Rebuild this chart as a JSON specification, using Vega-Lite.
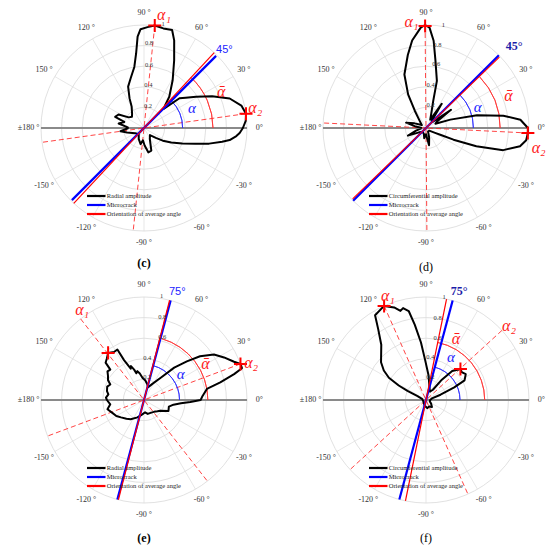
{
  "$schema": "https://vega.github.io/schema/vega-lite/v6.json",
  "background": "white",
  "padding": {"left": 17, "top": 6, "right": 0, "bottom": 0},
  "datasets": {
    "rings": [{"r": 0.2}, {"r": 0.4}, {"r": 0.6}, {"r": 0.8}, {"r": 1}],
    "spokes": [
      {"deg": 0, "label": "0°"}, {"deg": 30, "label": "30 °"}, {"deg": 60, "label": "60 °"},
      {"deg": 90, "label": "90 °"}, {"deg": 120, "label": "120 °"}, {"deg": 150, "label": "150 °"},
      {"deg": 180, "label": "±180 °"}, {"deg": -150, "label": "-150 °"}, {"deg": -120, "label": "-120 °"},
      {"deg": -90, "label": "-90 °"}, {"deg": -60, "label": "-60 °"}, {"deg": -30, "label": "-30 °"}
    ],
    "amp_c": [
      {"deg": -180, "r": 0.15}, {"deg": -172, "r": 0.23}, {"deg": -165, "r": 0.17}, {"deg": -150, "r": 0.1},
      {"deg": -130, "r": 0.08}, {"deg": -115, "r": 0.12}, {"deg": -102, "r": 0.16}, {"deg": -95, "r": 0.12},
      {"deg": -88, "r": 0.17}, {"deg": -80, "r": 0.24}, {"deg": -72, "r": 0.23}, {"deg": -62, "r": 0.12},
      {"deg": -50, "r": 0.09}, {"deg": -40, "r": 0.15}, {"deg": -34, "r": 0.22}, {"deg": -28, "r": 0.3},
      {"deg": -22, "r": 0.4}, {"deg": -17, "r": 0.52}, {"deg": -13.5, "r": 0.65}, {"deg": -10, "r": 0.77},
      {"deg": -8, "r": 0.84}, {"deg": -5, "r": 0.9}, {"deg": -3, "r": 0.93}, {"deg": 0, "r": 0.96},
      {"deg": 4, "r": 0.99}, {"deg": 8, "r": 1.0}, {"deg": 13, "r": 0.97}, {"deg": 19, "r": 0.88},
      {"deg": 25, "r": 0.73}, {"deg": 31, "r": 0.59}, {"deg": 36, "r": 0.5}, {"deg": 40, "r": 0.45},
      {"deg": 43, "r": 0.3}, {"deg": 44, "r": 0.27}, {"deg": 47, "r": 0.3}, {"deg": 51, "r": 0.39},
      {"deg": 59, "r": 0.54}, {"deg": 66, "r": 0.72}, {"deg": 71, "r": 0.9}, {"deg": 74, "r": 0.99},
      {"deg": 79, "r": 0.985}, {"deg": 84, "r": 1.0}, {"deg": 88, "r": 0.98}, {"deg": 92, "r": 0.96},
      {"deg": 94, "r": 0.89}, {"deg": 96, "r": 0.73}, {"deg": 99, "r": 0.6}, {"deg": 105, "r": 0.5},
      {"deg": 111, "r": 0.43}, {"deg": 116, "r": 0.32}, {"deg": 120, "r": 0.24}, {"deg": 130, "r": 0.18},
      {"deg": 137, "r": 0.16}, {"deg": 145, "r": 0.18}, {"deg": 152, "r": 0.28}, {"deg": 159, "r": 0.3},
      {"deg": 163, "r": 0.2}, {"deg": 170, "r": 0.25}, {"deg": 175, "r": 0.18}, {"deg": 180, "r": 0.15}
    ],
    "amp_d": [
      {"deg": -180, "r": 0.04}, {"deg": -165, "r": 0.1}, {"deg": -157, "r": 0.19}, {"deg": -148, "r": 0.08},
      {"deg": -130, "r": 0.05}, {"deg": -110, "r": 0.06}, {"deg": -100, "r": 0.1}, {"deg": -90, "r": 0.06},
      {"deg": -80, "r": 0.17}, {"deg": -72, "r": 0.1}, {"deg": -60, "r": 0.04}, {"deg": -40, "r": 0.04},
      {"deg": -28, "r": 0.1}, {"deg": -25, "r": 0.16}, {"deg": -23, "r": 0.29}, {"deg": -20, "r": 0.52},
      {"deg": -16, "r": 0.78}, {"deg": -11, "r": 0.93}, {"deg": -7, "r": 0.98}, {"deg": -3, "r": 0.99},
      {"deg": 0, "r": 0.99}, {"deg": 5, "r": 0.92}, {"deg": 9, "r": 0.76}, {"deg": 14, "r": 0.51},
      {"deg": 19, "r": 0.25}, {"deg": 24, "r": 0.1}, {"deg": 30, "r": 0.12}, {"deg": 36, "r": 0.3},
      {"deg": 41, "r": 0.1}, {"deg": 46, "r": 0.08}, {"deg": 52, "r": 0.1}, {"deg": 57, "r": 0.28},
      {"deg": 63, "r": 0.09}, {"deg": 70, "r": 0.15}, {"deg": 75, "r": 0.27}, {"deg": 77, "r": 0.47},
      {"deg": 82, "r": 0.66}, {"deg": 85, "r": 0.85}, {"deg": 88, "r": 0.975}, {"deg": 90.5, "r": 1.0},
      {"deg": 93, "r": 0.976}, {"deg": 99, "r": 0.86}, {"deg": 104, "r": 0.73}, {"deg": 112, "r": 0.56},
      {"deg": 118, "r": 0.37}, {"deg": 123, "r": 0.2}, {"deg": 132, "r": 0.09}, {"deg": 145, "r": 0.05},
      {"deg": 158, "r": 0.12}, {"deg": 165, "r": 0.2}, {"deg": 172, "r": 0.1}, {"deg": 180, "r": 0.04}
    ],
    "amp_e": [
      {"deg": -180, "r": 0.36}, {"deg": -172.7, "r": 0.33}, {"deg": -165.7, "r": 0.366}, {"deg": -157.2, "r": 0.33},
      {"deg": -150, "r": 0.31}, {"deg": -142.9, "r": 0.28}, {"deg": -133, "r": 0.25}, {"deg": -124.6, "r": 0.227},
      {"deg": -110.7, "r": 0.18}, {"deg": -96.6, "r": 0.14}, {"deg": -85, "r": 0.12}, {"deg": -75, "r": 0.14},
      {"deg": -63, "r": 0.14}, {"deg": -50, "r": 0.15}, {"deg": -40, "r": 0.17}, {"deg": -33, "r": 0.19},
      {"deg": -24, "r": 0.26}, {"deg": -15, "r": 0.25}, {"deg": -9, "r": 0.29}, {"deg": -5, "r": 0.36},
      {"deg": -2.5, "r": 0.45}, {"deg": 0, "r": 0.55}, {"deg": 4, "r": 0.57}, {"deg": 10, "r": 0.62},
      {"deg": 13, "r": 0.76}, {"deg": 16, "r": 0.91}, {"deg": 18, "r": 1.0}, {"deg": 20.5, "r": 1.0},
      {"deg": 23, "r": 0.95}, {"deg": 28, "r": 0.88}, {"deg": 33, "r": 0.81}, {"deg": 38, "r": 0.69},
      {"deg": 42, "r": 0.56}, {"deg": 47, "r": 0.43}, {"deg": 53, "r": 0.27}, {"deg": 62, "r": 0.18},
      {"deg": 72, "r": 0.13}, {"deg": 78, "r": 0.155}, {"deg": 86, "r": 0.19}, {"deg": 94, "r": 0.217},
      {"deg": 99, "r": 0.26}, {"deg": 103, "r": 0.288}, {"deg": 106, "r": 0.27}, {"deg": 108, "r": 0.31},
      {"deg": 111, "r": 0.353}, {"deg": 113, "r": 0.33}, {"deg": 116.6, "r": 0.433}, {"deg": 117.8, "r": 0.554},
      {"deg": 122, "r": 0.55}, {"deg": 127.3, "r": 0.575}, {"deg": 132, "r": 0.54}, {"deg": 135.8, "r": 0.52},
      {"deg": 138, "r": 0.44}, {"deg": 142, "r": 0.45}, {"deg": 146.3, "r": 0.42}, {"deg": 151, "r": 0.4},
      {"deg": 155.3, "r": 0.36}, {"deg": 160, "r": 0.38}, {"deg": 166.4, "r": 0.37}, {"deg": 171, "r": 0.35},
      {"deg": 176.5, "r": 0.37}, {"deg": 180, "r": 0.36}
    ],
    "amp_f": [
      {"deg": -180, "r": 0.03}, {"deg": -150, "r": 0.03}, {"deg": -120, "r": 0.04}, {"deg": -100, "r": 0.06},
      {"deg": -80, "r": 0.08}, {"deg": -65, "r": 0.07}, {"deg": -50, "r": 0.09}, {"deg": -35, "r": 0.06},
      {"deg": -20, "r": 0.04}, {"deg": 0, "r": 0.04}, {"deg": 10, "r": 0.05}, {"deg": 15, "r": 0.06},
      {"deg": 20, "r": 0.15}, {"deg": 24, "r": 0.3}, {"deg": 27, "r": 0.42}, {"deg": 33, "r": 0.46},
      {"deg": 38, "r": 0.44}, {"deg": 42, "r": 0.45}, {"deg": 48, "r": 0.38}, {"deg": 52, "r": 0.25},
      {"deg": 56, "r": 0.12}, {"deg": 65, "r": 0.09}, {"deg": 75, "r": 0.13}, {"deg": 84, "r": 0.24},
      {"deg": 91, "r": 0.38}, {"deg": 95, "r": 0.56}, {"deg": 98.5, "r": 0.74}, {"deg": 101, "r": 0.88},
      {"deg": 104, "r": 0.92}, {"deg": 106, "r": 0.9}, {"deg": 109, "r": 0.95}, {"deg": 114, "r": 1.0},
      {"deg": 121, "r": 0.96}, {"deg": 124, "r": 0.83}, {"deg": 129, "r": 0.69}, {"deg": 140, "r": 0.57},
      {"deg": 145, "r": 0.5}, {"deg": 149, "r": 0.42}, {"deg": 152, "r": 0.3}, {"deg": 154, "r": 0.2},
      {"deg": 156, "r": 0.09}, {"deg": 165, "r": 0.04}, {"deg": 180, "r": 0.03}
    ]
  },
  "concat": [
    {
      "width": 206, "height": 206,
      "layer": [
        {"data": {"name": "rings"}, "mark": {"type": "arc", "theta": 0, "theta2": 6.2832, "filled": false, "stroke": "#d4d4d4", "strokeWidth": 0.7},
         "encoding": {"radius": {"field": "r", "type": "quantitative", "stack": null, "scale": {"type": "linear", "domain": [0, 1], "range": [0, 103], "zero": true, "nice": false}}}},
        {"data": {"name": "spokes"}, "transform": [{"calculate": "cos(datum.deg*PI/180)", "as": "x"}, {"calculate": "sin(datum.deg*PI/180)", "as": "y"}],
         "mark": {"type": "rule", "stroke": "#dcdcdc", "strokeWidth": 0.7},
         "encoding": {"x": {"field": "x", "type": "quantitative", "scale": {"domain": [-1, 1], "nice": false, "zero": false}}, "y": {"field": "y", "type": "quantitative", "scale": {"domain": [-1, 1], "nice": false, "zero": false}}, "x2": {"datum": 0}, "y2": {"datum": 0}}},
        {"data": {"name": "spokes"}, "transform": [{"filter": "datum.deg == 0"}],
         "mark": {"type": "rule", "stroke": "#8a8a8a", "strokeWidth": 2},
         "encoding": {"x": {"datum": -1, "type": "quantitative"}, "x2": {"datum": 1}, "y": {"datum": 0, "type": "quantitative"}}},
        {"data": {"values": [{"deg": 84, "r": 1}, {"deg": 8, "r": 1}]},
         "transform": [{"calculate": "datum.r*cos(datum.deg*PI/180)", "as": "x"}, {"calculate": "datum.r*sin(datum.deg*PI/180)", "as": "y"}, {"calculate": "-datum.x", "as": "nx"}, {"calculate": "-datum.y", "as": "ny"}],
         "mark": {"type": "rule", "stroke": "#ff3030", "strokeWidth": 0.9, "strokeDash": [5, 3]},
         "encoding": {"x": {"field": "x", "type": "quantitative"}, "y": {"field": "y", "type": "quantitative"}, "x2": {"field": "nx"}, "y2": {"field": "ny"}}},
        {"data": {"values": [{"from": 0, "to": 45, "r": 0.375}]},
         "transform": [{"calculate": "(90-datum.to)*PI/180", "as": "t1"}, {"calculate": "(90-datum.from)*PI/180", "as": "t2"}],
         "mark": {"type": "arc", "filled": false, "stroke": "#2a2aff", "strokeWidth": 0.8},
         "encoding": {"theta": {"field": "t1", "type": "quantitative", "scale": null, "stack": null}, "theta2": {"field": "t2"}, "radius": {"field": "r", "type": "quantitative", "stack": null}, "radius2": {"field": "r"}}},
        {"data": {"values": [{"from": 0, "to": 47, "r": 0.67}]},
         "transform": [{"calculate": "(90-datum.to)*PI/180", "as": "t1"}, {"calculate": "(90-datum.from)*PI/180", "as": "t2"}],
         "mark": {"type": "arc", "filled": false, "stroke": "#ff3030", "strokeWidth": 0.8},
         "encoding": {"theta": {"field": "t1", "type": "quantitative", "scale": null, "stack": null}, "theta2": {"field": "t2"}, "radius": {"field": "r", "type": "quantitative", "stack": null}, "radius2": {"field": "r"}}},
        {"data": {"name": "amp_c"}, "transform": [{"calculate": "datum.r*cos(datum.deg*PI/180)", "as": "x"}, {"calculate": "datum.r*sin(datum.deg*PI/180)", "as": "y"}],
         "mark": {"type": "line", "strokeWidth": 2, "strokeJoin": "round"},
         "encoding": {"x": {"field": "x", "type": "quantitative"}, "y": {"field": "y", "type": "quantitative"}, "order": {"field": "deg", "type": "quantitative"},
           "color": {"datum": "Radial amplitude", "type": "nominal",
             "scale": {"domain": ["Radial amplitude", "Microcrack", "Orientation of average angle"], "range": ["#000000", "#0000ff", "#ff0000"]},
             "legend": {"orient": "none", "legendX": 46, "legendY": 166.5, "title": null, "padding": 0, "rowPadding": 0, "symbolType": "M-3,0H3", "symbolSize": 38, "symbolStrokeWidth": 2.2, "symbolOffset": 4.75, "labelOffset": 6, "labelFont": "Liberation Serif", "labelFontSize": 6.5, "labelColor": "#222", "labelLimit": 0}}}},
        {"data": {"values": [{"deg": 45, "r": 0.99}]},
         "transform": [{"calculate": "datum.r*cos(datum.deg*PI/180)", "as": "x"}, {"calculate": "datum.r*sin(datum.deg*PI/180)", "as": "y"}, {"calculate": "-datum.x", "as": "nx"}, {"calculate": "-datum.y", "as": "ny"}],
         "mark": {"type": "rule", "strokeWidth": 2.2},
         "encoding": {"x": {"field": "x", "type": "quantitative"}, "y": {"field": "y", "type": "quantitative"}, "x2": {"field": "nx"}, "y2": {"field": "ny"}, "color": {"datum": "Microcrack", "type": "nominal"}}},
        {"data": {"values": [{"deg": 47, "r": 1.0}]},
         "transform": [{"calculate": "datum.r*cos(datum.deg*PI/180)", "as": "x"}, {"calculate": "datum.r*sin(datum.deg*PI/180)", "as": "y"}, {"calculate": "-datum.x", "as": "nx"}, {"calculate": "-datum.y", "as": "ny"}],
         "mark": {"type": "rule", "strokeWidth": 1.2},
         "encoding": {"x": {"field": "x", "type": "quantitative"}, "y": {"field": "y", "type": "quantitative"}, "x2": {"field": "nx"}, "y2": {"field": "ny"}, "color": {"datum": "Orientation of average angle", "type": "nominal"}}},
        {"data": {"values": [{"deg": 84, "r": 1.0}, {"deg": 8, "r": 1.0}]},
         "transform": [{"calculate": "datum.r*cos(datum.deg*PI/180)", "as": "x"}, {"calculate": "datum.r*sin(datum.deg*PI/180)", "as": "y"}],
         "mark": {"type": "point", "shape": "M-1,0H1M0,-1V1", "filled": false, "stroke": "#ff0000", "strokeWidth": 2, "size": 170, "opacity": 1},
         "encoding": {"x": {"field": "x", "type": "quantitative"}, "y": {"field": "y", "type": "quantitative"}}},
        {"data": {"name": "spokes"}, "transform": [{"calculate": "1.12*cos(datum.deg*PI/180)", "as": "x"}, {"calculate": "1.12*sin(datum.deg*PI/180)", "as": "y"}],
         "mark": {"type": "text", "font": "Liberation Serif", "fontSize": 8, "color": "#333"},
         "encoding": {"x": {"field": "x", "type": "quantitative"}, "y": {"field": "y", "type": "quantitative"}, "text": {"field": "label"}}},
        {"data": {"values": [{"x": 0.186, "y": 1.013, "t": "1"}, {"x": 0.049, "y": 0.824, "t": "0.8"}, {"x": 0.049, "y": 0.612, "t": "0.6"}, {"x": 0.042, "y": 0.417, "t": "0.4"}, {"x": 0.039, "y": 0.212, "t": "0.2"}]},
         "mark": {"type": "text", "font": "Liberation Serif", "fontSize": 6.5, "color": "#333"},
         "encoding": {"x": {"field": "x", "type": "quantitative"}, "y": {"field": "y", "type": "quantitative"}, "text": {"field": "t"}}},
        {"data": {"values": [{"x": 0.195, "y": 1.1, "t": "α₁"}, {"x": 1.08, "y": 0.19, "t": "α₂"}, {"x": 0.75, "y": 0.35, "t": "ᾱ"}]},
         "mark": {"type": "text", "font": "Liberation Serif", "fontSize": 16, "fontStyle": "italic", "color": "#ff1a1a"},
         "encoding": {"x": {"field": "x", "type": "quantitative"}, "y": {"field": "y", "type": "quantitative"}, "text": {"field": "t"}}},
        {"data": {"values": [{"x": 0.466, "y": 0.19, "t": "α"}]},
         "mark": {"type": "text", "font": "Liberation Serif", "fontSize": 15, "fontStyle": "italic", "color": "#2222ff"},
         "encoding": {"x": {"field": "x", "type": "quantitative"}, "y": {"field": "y", "type": "quantitative"}, "text": {"field": "t"}}},
        {"data": {"values": [{"x": 0.78, "y": 0.76, "t": "45°"}]},
         "mark": {"type": "text", "font": "Liberation Sans", "fontSize": 11, "color": "#2222ff"},
         "encoding": {"x": {"field": "x", "type": "quantitative"}, "y": {"field": "y", "type": "quantitative"}, "text": {"field": "t"}}},
        {"data": {"values": [{"x": 0, "y": -1.31, "t": "(c)"}]},
         "mark": {"type": "text", "font": "Liberation Serif", "fontSize": 12, "fontWeight": "bold", "color": "#000"},
         "encoding": {"x": {"field": "x", "type": "quantitative"}, "y": {"field": "y", "type": "quantitative"}, "text": {"field": "t"}}}
      ]
    },
    {
      "width": 206, "height": 206,
      "layer": [
        {"data": {"name": "rings"}, "mark": {"type": "arc", "theta": 0, "theta2": 6.2832, "filled": false, "stroke": "#d4d4d4", "strokeWidth": 0.7},
         "encoding": {"radius": {"field": "r", "type": "quantitative", "stack": null, "scale": {"type": "linear", "domain": [0, 1], "range": [0, 103], "zero": true, "nice": false}}}},
        {"data": {"name": "spokes"}, "transform": [{"calculate": "cos(datum.deg*PI/180)", "as": "x"}, {"calculate": "sin(datum.deg*PI/180)", "as": "y"}],
         "mark": {"type": "rule", "stroke": "#dcdcdc", "strokeWidth": 0.7},
         "encoding": {"x": {"field": "x", "type": "quantitative", "scale": {"domain": [-1, 1], "nice": false, "zero": false}}, "y": {"field": "y", "type": "quantitative", "scale": {"domain": [-1, 1], "nice": false, "zero": false}}, "x2": {"datum": 0}, "y2": {"datum": 0}}},
        {"data": {"name": "spokes"}, "transform": [{"filter": "datum.deg == 0"}],
         "mark": {"type": "rule", "stroke": "#8a8a8a", "strokeWidth": 2},
         "encoding": {"x": {"datum": -1, "type": "quantitative"}, "x2": {"datum": 1}, "y": {"datum": 0, "type": "quantitative"}}},
        {"data": {"values": [{"deg": 90.5, "r": 1}, {"deg": -2.8, "r": 1}]},
         "transform": [{"calculate": "datum.r*cos(datum.deg*PI/180)", "as": "x"}, {"calculate": "datum.r*sin(datum.deg*PI/180)", "as": "y"}, {"calculate": "-datum.x", "as": "nx"}, {"calculate": "-datum.y", "as": "ny"}],
         "mark": {"type": "rule", "stroke": "#ff3030", "strokeWidth": 0.9, "strokeDash": [5, 3]},
         "encoding": {"x": {"field": "x", "type": "quantitative"}, "y": {"field": "y", "type": "quantitative"}, "x2": {"field": "nx"}, "y2": {"field": "ny"}}},
        {"data": {"values": [{"from": 0, "to": 45, "r": 0.46}]},
         "transform": [{"calculate": "(90-datum.to)*PI/180", "as": "t1"}, {"calculate": "(90-datum.from)*PI/180", "as": "t2"}],
         "mark": {"type": "arc", "filled": false, "stroke": "#2a2aff", "strokeWidth": 0.8},
         "encoding": {"theta": {"field": "t1", "type": "quantitative", "scale": null, "stack": null}, "theta2": {"field": "t2"}, "radius": {"field": "r", "type": "quantitative", "stack": null}, "radius2": {"field": "r"}}},
        {"data": {"values": [{"from": 0, "to": 44, "r": 0.72}]},
         "transform": [{"calculate": "(90-datum.to)*PI/180", "as": "t1"}, {"calculate": "(90-datum.from)*PI/180", "as": "t2"}],
         "mark": {"type": "arc", "filled": false, "stroke": "#ff3030", "strokeWidth": 0.8},
         "encoding": {"theta": {"field": "t1", "type": "quantitative", "scale": null, "stack": null}, "theta2": {"field": "t2"}, "radius": {"field": "r", "type": "quantitative", "stack": null}, "radius2": {"field": "r"}}},
        {"data": {"name": "amp_d"}, "transform": [{"calculate": "datum.r*cos(datum.deg*PI/180)", "as": "x"}, {"calculate": "datum.r*sin(datum.deg*PI/180)", "as": "y"}],
         "mark": {"type": "line", "strokeWidth": 2, "strokeJoin": "round"},
         "encoding": {"x": {"field": "x", "type": "quantitative"}, "y": {"field": "y", "type": "quantitative"}, "order": {"field": "deg", "type": "quantitative"},
           "color": {"datum": "Circumferential amplitude", "type": "nominal",
             "scale": {"domain": ["Circumferential amplitude", "Microcrack", "Orientation of average angle"], "range": ["#000000", "#0000ff", "#ff0000"]},
             "legend": {"orient": "none", "legendX": 46, "legendY": 166.5, "title": null, "padding": 0, "rowPadding": 0, "symbolType": "M-3,0H3", "symbolSize": 38, "symbolStrokeWidth": 2.2, "symbolOffset": 4.75, "labelOffset": 6, "labelFont": "Liberation Serif", "labelFontSize": 6.5, "labelColor": "#222", "labelLimit": 0}}}},
        {"data": {"values": [{"deg": 45, "r": 1.0}]},
         "transform": [{"calculate": "datum.r*cos(datum.deg*PI/180)", "as": "x"}, {"calculate": "datum.r*sin(datum.deg*PI/180)", "as": "y"}, {"calculate": "-datum.x", "as": "nx"}, {"calculate": "-datum.y", "as": "ny"}],
         "mark": {"type": "rule", "strokeWidth": 2.2},
         "encoding": {"x": {"field": "x", "type": "quantitative"}, "y": {"field": "y", "type": "quantitative"}, "x2": {"field": "nx"}, "y2": {"field": "ny"}, "color": {"datum": "Microcrack", "type": "nominal"}}},
        {"data": {"values": [{"deg": 44, "r": 0.99}]},
         "transform": [{"calculate": "datum.r*cos(datum.deg*PI/180)", "as": "x"}, {"calculate": "datum.r*sin(datum.deg*PI/180)", "as": "y"}, {"calculate": "-datum.x", "as": "nx"}, {"calculate": "-datum.y", "as": "ny"}],
         "mark": {"type": "rule", "strokeWidth": 1.2},
         "encoding": {"x": {"field": "x", "type": "quantitative"}, "y": {"field": "y", "type": "quantitative"}, "x2": {"field": "nx"}, "y2": {"field": "ny"}, "color": {"datum": "Orientation of average angle", "type": "nominal"}}},
        {"data": {"values": [{"deg": 90.5, "r": 0.99}, {"deg": -2.8, "r": 0.99}]},
         "transform": [{"calculate": "datum.r*cos(datum.deg*PI/180)", "as": "x"}, {"calculate": "datum.r*sin(datum.deg*PI/180)", "as": "y"}],
         "mark": {"type": "point", "shape": "M-1,0H1M0,-1V1", "filled": false, "stroke": "#ff0000", "strokeWidth": 2, "size": 170, "opacity": 1},
         "encoding": {"x": {"field": "x", "type": "quantitative"}, "y": {"field": "y", "type": "quantitative"}}},
        {"data": {"name": "spokes"}, "transform": [{"calculate": "1.12*cos(datum.deg*PI/180)", "as": "x"}, {"calculate": "1.12*sin(datum.deg*PI/180)", "as": "y"}],
         "mark": {"type": "text", "font": "Liberation Serif", "fontSize": 8, "color": "#333"},
         "encoding": {"x": {"field": "x", "type": "quantitative"}, "y": {"field": "y", "type": "quantitative"}, "text": {"field": "label"}}},
        {"data": {"values": [{"x": 0.169, "y": 1.0, "t": "1"}, {"x": 0.11, "y": 0.81, "t": "0.8"}, {"x": 0.1, "y": 0.62, "t": "0.6"}, {"x": 0.045, "y": 0.416, "t": "0.4"}, {"x": 0.045, "y": 0.227, "t": "0.2"}]},
         "mark": {"type": "text", "font": "Liberation Serif", "fontSize": 6.5, "color": "#333"},
         "encoding": {"x": {"field": "x", "type": "quantitative"}, "y": {"field": "y", "type": "quantitative"}, "text": {"field": "t"}}},
        {"data": {"values": [{"x": -0.14, "y": 1.03, "t": "α₁"}, {"x": 1.094, "y": -0.195, "t": "α₂"}, {"x": 0.8, "y": 0.31, "t": "ᾱ"}]},
         "mark": {"type": "text", "font": "Liberation Serif", "fontSize": 16, "fontStyle": "italic", "color": "#ff1a1a"},
         "encoding": {"x": {"field": "x", "type": "quantitative"}, "y": {"field": "y", "type": "quantitative"}, "text": {"field": "t"}}},
        {"data": {"values": [{"x": 0.503, "y": 0.2, "t": "α"}]},
         "mark": {"type": "text", "font": "Liberation Serif", "fontSize": 15, "fontStyle": "italic", "color": "#2222ff"},
         "encoding": {"x": {"field": "x", "type": "quantitative"}, "y": {"field": "y", "type": "quantitative"}, "text": {"field": "t"}}},
        {"data": {"values": [{"x": 0.857, "y": 0.795, "t": "45°"}]},
         "mark": {"type": "text", "font": "Liberation Serif", "fontSize": 12, "fontWeight": "bold", "color": "#1c1ca8"},
         "encoding": {"x": {"field": "x", "type": "quantitative"}, "y": {"field": "y", "type": "quantitative"}, "text": {"field": "t"}}},
        {"data": {"values": [{"x": 0, "y": -1.35, "t": "(d)"}]},
         "mark": {"type": "text", "font": "Liberation Serif", "fontSize": 12, "color": "#000"},
         "encoding": {"x": {"field": "x", "type": "quantitative"}, "y": {"field": "y", "type": "quantitative"}, "text": {"field": "t"}}}
      ]
    },
    {
      "width": 206, "height": 206,
      "layer": [
        {"data": {"name": "rings"}, "mark": {"type": "arc", "theta": 0, "theta2": 6.2832, "filled": false, "stroke": "#d4d4d4", "strokeWidth": 0.7},
         "encoding": {"radius": {"field": "r", "type": "quantitative", "stack": null, "scale": {"type": "linear", "domain": [0, 1], "range": [0, 103], "zero": true, "nice": false}}}},
        {"data": {"name": "spokes"}, "transform": [{"calculate": "cos(datum.deg*PI/180)", "as": "x"}, {"calculate": "sin(datum.deg*PI/180)", "as": "y"}],
         "mark": {"type": "rule", "stroke": "#dcdcdc", "strokeWidth": 0.7},
         "encoding": {"x": {"field": "x", "type": "quantitative", "scale": {"domain": [-1, 1], "nice": false, "zero": false}}, "y": {"field": "y", "type": "quantitative", "scale": {"domain": [-1, 1], "nice": false, "zero": false}}, "x2": {"datum": 0}, "y2": {"datum": 0}}},
        {"data": {"name": "spokes"}, "transform": [{"filter": "datum.deg == 0"}],
         "mark": {"type": "rule", "stroke": "#8a8a8a", "strokeWidth": 2},
         "encoding": {"x": {"datum": -1, "type": "quantitative"}, "x2": {"datum": 1}, "y": {"datum": 0, "type": "quantitative"}}},
        {"data": {"values": [{"deg": 128, "r": 1}, {"deg": 20.5, "r": 1}]},
         "transform": [{"calculate": "datum.r*cos(datum.deg*PI/180)", "as": "x"}, {"calculate": "datum.r*sin(datum.deg*PI/180)", "as": "y"}, {"calculate": "-datum.x", "as": "nx"}, {"calculate": "-datum.y", "as": "ny"}],
         "mark": {"type": "rule", "stroke": "#ff3030", "strokeWidth": 0.9, "strokeDash": [5, 3]},
         "encoding": {"x": {"field": "x", "type": "quantitative"}, "y": {"field": "y", "type": "quantitative"}, "x2": {"field": "nx"}, "y2": {"field": "ny"}}},
        {"data": {"values": [{"from": 0, "to": 75, "r": 0.345}]},
         "transform": [{"calculate": "(90-datum.to)*PI/180", "as": "t1"}, {"calculate": "(90-datum.from)*PI/180", "as": "t2"}],
         "mark": {"type": "arc", "filled": false, "stroke": "#2a2aff", "strokeWidth": 0.8},
         "encoding": {"theta": {"field": "t1", "type": "quantitative", "scale": null, "stack": null}, "theta2": {"field": "t2"}, "radius": {"field": "r", "type": "quantitative", "stack": null}, "radius2": {"field": "r"}}},
        {"data": {"values": [{"from": 0, "to": 74, "r": 0.62}]},
         "transform": [{"calculate": "(90-datum.to)*PI/180", "as": "t1"}, {"calculate": "(90-datum.from)*PI/180", "as": "t2"}],
         "mark": {"type": "arc", "filled": false, "stroke": "#ff3030", "strokeWidth": 0.8},
         "encoding": {"theta": {"field": "t1", "type": "quantitative", "scale": null, "stack": null}, "theta2": {"field": "t2"}, "radius": {"field": "r", "type": "quantitative", "stack": null}, "radius2": {"field": "r"}}},
        {"data": {"name": "amp_e"}, "transform": [{"calculate": "datum.r*cos(datum.deg*PI/180)", "as": "x"}, {"calculate": "datum.r*sin(datum.deg*PI/180)", "as": "y"}],
         "mark": {"type": "line", "strokeWidth": 2, "strokeJoin": "round"},
         "encoding": {"x": {"field": "x", "type": "quantitative"}, "y": {"field": "y", "type": "quantitative"}, "order": {"field": "deg", "type": "quantitative"},
           "color": {"datum": "Radial amplitude", "type": "nominal",
             "scale": {"domain": ["Radial amplitude", "Microcrack", "Orientation of average angle"], "range": ["#000000", "#0000ff", "#ff0000"]},
             "legend": {"orient": "none", "legendX": 46, "legendY": 166.5, "title": null, "padding": 0, "rowPadding": 0, "symbolType": "M-3,0H3", "symbolSize": 38, "symbolStrokeWidth": 2.2, "symbolOffset": 4.75, "labelOffset": 6, "labelFont": "Liberation Serif", "labelFontSize": 6.5, "labelColor": "#222", "labelLimit": 0}}}},
        {"data": {"values": [{"deg": 75, "r": 1.0}]},
         "transform": [{"calculate": "datum.r*cos(datum.deg*PI/180)", "as": "x"}, {"calculate": "datum.r*sin(datum.deg*PI/180)", "as": "y"}, {"calculate": "-datum.x", "as": "nx"}, {"calculate": "-datum.y", "as": "ny"}],
         "mark": {"type": "rule", "strokeWidth": 2.2},
         "encoding": {"x": {"field": "x", "type": "quantitative"}, "y": {"field": "y", "type": "quantitative"}, "x2": {"field": "nx"}, "y2": {"field": "ny"}, "color": {"datum": "Microcrack", "type": "nominal"}}},
        {"data": {"values": [{"deg": 75.6, "r": 1.0}]},
         "transform": [{"calculate": "datum.r*cos(datum.deg*PI/180)", "as": "x"}, {"calculate": "datum.r*sin(datum.deg*PI/180)", "as": "y"}, {"calculate": "-datum.x", "as": "nx"}, {"calculate": "-datum.y", "as": "ny"}],
         "mark": {"type": "rule", "strokeWidth": 1.2},
         "encoding": {"x": {"field": "x", "type": "quantitative"}, "y": {"field": "y", "type": "quantitative"}, "x2": {"field": "nx"}, "y2": {"field": "ny"}, "color": {"datum": "Orientation of average angle", "type": "nominal"}}},
        {"data": {"values": [{"deg": 127.3, "r": 0.575}, {"deg": 20.5, "r": 1.0}]},
         "transform": [{"calculate": "datum.r*cos(datum.deg*PI/180)", "as": "x"}, {"calculate": "datum.r*sin(datum.deg*PI/180)", "as": "y"}],
         "mark": {"type": "point", "shape": "M-1,0H1M0,-1V1", "filled": false, "stroke": "#ff0000", "strokeWidth": 2, "size": 170, "opacity": 1},
         "encoding": {"x": {"field": "x", "type": "quantitative"}, "y": {"field": "y", "type": "quantitative"}}},
        {"data": {"name": "spokes"}, "transform": [{"calculate": "1.12*cos(datum.deg*PI/180)", "as": "x"}, {"calculate": "1.12*sin(datum.deg*PI/180)", "as": "y"}],
         "mark": {"type": "text", "font": "Liberation Serif", "fontSize": 8, "color": "#333"},
         "encoding": {"x": {"field": "x", "type": "quantitative"}, "y": {"field": "y", "type": "quantitative"}, "text": {"field": "label"}}},
        {"data": {"values": [{"x": 0.171, "y": 1.006, "t": "1"}, {"x": 0.177, "y": 0.806, "t": "0.8"}, {"x": 0.177, "y": 0.61, "t": "0.6"}, {"x": 0.032, "y": 0.41, "t": "0.4"}, {"x": 0.032, "y": 0.22, "t": "0.2"}]},
         "mark": {"type": "text", "font": "Liberation Serif", "fontSize": 6.5, "color": "#333"},
         "encoding": {"x": {"field": "x", "type": "quantitative"}, "y": {"field": "y", "type": "quantitative"}, "text": {"field": "t"}}},
        {"data": {"values": [{"x": -0.6, "y": 0.877, "t": "α₁"}, {"x": 1.04, "y": 0.355, "t": "α₂"}, {"x": 0.597, "y": 0.345, "t": "ᾱ"}]},
         "mark": {"type": "text", "font": "Liberation Serif", "fontSize": 16, "fontStyle": "italic", "color": "#ff1a1a"},
         "encoding": {"x": {"field": "x", "type": "quantitative"}, "y": {"field": "y", "type": "quantitative"}, "text": {"field": "t"}}},
        {"data": {"values": [{"x": 0.355, "y": 0.248, "t": "α"}]},
         "mark": {"type": "text", "font": "Liberation Serif", "fontSize": 15, "fontStyle": "italic", "color": "#2222ff"},
         "encoding": {"x": {"field": "x", "type": "quantitative"}, "y": {"field": "y", "type": "quantitative"}, "text": {"field": "t"}}},
        {"data": {"values": [{"x": 0.323, "y": 1.045, "t": "75°"}]},
         "mark": {"type": "text", "font": "Liberation Sans", "fontSize": 11, "color": "#2222ff"},
         "encoding": {"x": {"field": "x", "type": "quantitative"}, "y": {"field": "y", "type": "quantitative"}, "text": {"field": "t"}}},
        {"data": {"values": [{"x": 0, "y": -1.34, "t": "(e)"}]},
         "mark": {"type": "text", "font": "Liberation Serif", "fontSize": 12, "fontWeight": "bold", "color": "#000"},
         "encoding": {"x": {"field": "x", "type": "quantitative"}, "y": {"field": "y", "type": "quantitative"}, "text": {"field": "t"}}}
      ]
    },
    {
      "width": 206, "height": 206,
      "layer": [
        {"data": {"name": "rings"}, "mark": {"type": "arc", "theta": 0, "theta2": 6.2832, "filled": false, "stroke": "#d4d4d4", "strokeWidth": 0.7},
         "encoding": {"radius": {"field": "r", "type": "quantitative", "stack": null, "scale": {"type": "linear", "domain": [0, 1], "range": [0, 103], "zero": true, "nice": false}}}},
        {"data": {"name": "spokes"}, "transform": [{"calculate": "cos(datum.deg*PI/180)", "as": "x"}, {"calculate": "sin(datum.deg*PI/180)", "as": "y"}],
         "mark": {"type": "rule", "stroke": "#dcdcdc", "strokeWidth": 0.7},
         "encoding": {"x": {"field": "x", "type": "quantitative", "scale": {"domain": [-1, 1], "nice": false, "zero": false}}, "y": {"field": "y", "type": "quantitative", "scale": {"domain": [-1, 1], "nice": false, "zero": false}}, "x2": {"datum": 0}, "y2": {"datum": 0}}},
        {"data": {"name": "spokes"}, "transform": [{"filter": "datum.deg == 0"}],
         "mark": {"type": "rule", "stroke": "#8a8a8a", "strokeWidth": 2},
         "encoding": {"x": {"datum": -1, "type": "quantitative"}, "x2": {"datum": 1}, "y": {"datum": 0, "type": "quantitative"}}},
        {"data": {"values": [{"deg": 114, "r": 1}, {"deg": 42.5, "r": 1}]},
         "transform": [{"calculate": "datum.r*cos(datum.deg*PI/180)", "as": "x"}, {"calculate": "datum.r*sin(datum.deg*PI/180)", "as": "y"}, {"calculate": "-datum.x", "as": "nx"}, {"calculate": "-datum.y", "as": "ny"}],
         "mark": {"type": "rule", "stroke": "#ff3030", "strokeWidth": 0.9, "strokeDash": [5, 3]},
         "encoding": {"x": {"field": "x", "type": "quantitative"}, "y": {"field": "y", "type": "quantitative"}, "x2": {"field": "nx"}, "y2": {"field": "ny"}}},
        {"data": {"values": [{"from": 0, "to": 75, "r": 0.33}]},
         "transform": [{"calculate": "(90-datum.to)*PI/180", "as": "t1"}, {"calculate": "(90-datum.from)*PI/180", "as": "t2"}],
         "mark": {"type": "arc", "filled": false, "stroke": "#2a2aff", "strokeWidth": 0.8},
         "encoding": {"theta": {"field": "t1", "type": "quantitative", "scale": null, "stack": null}, "theta2": {"field": "t2"}, "radius": {"field": "r", "type": "quantitative", "stack": null}, "radius2": {"field": "r"}}},
        {"data": {"values": [{"from": 0, "to": 78.5, "r": 0.57}]},
         "transform": [{"calculate": "(90-datum.to)*PI/180", "as": "t1"}, {"calculate": "(90-datum.from)*PI/180", "as": "t2"}],
         "mark": {"type": "arc", "filled": false, "stroke": "#ff3030", "strokeWidth": 0.8},
         "encoding": {"theta": {"field": "t1", "type": "quantitative", "scale": null, "stack": null}, "theta2": {"field": "t2"}, "radius": {"field": "r", "type": "quantitative", "stack": null}, "radius2": {"field": "r"}}},
        {"data": {"name": "amp_f"}, "transform": [{"calculate": "datum.r*cos(datum.deg*PI/180)", "as": "x"}, {"calculate": "datum.r*sin(datum.deg*PI/180)", "as": "y"}],
         "mark": {"type": "line", "strokeWidth": 2, "strokeJoin": "round"},
         "encoding": {"x": {"field": "x", "type": "quantitative"}, "y": {"field": "y", "type": "quantitative"}, "order": {"field": "deg", "type": "quantitative"},
           "color": {"datum": "Circumferential amplitude", "type": "nominal",
             "scale": {"domain": ["Circumferential amplitude", "Microcrack", "Orientation of average angle"], "range": ["#000000", "#0000ff", "#ff0000"]},
             "legend": {"orient": "none", "legendX": 46, "legendY": 166.5, "title": null, "padding": 0, "rowPadding": 0, "symbolType": "M-3,0H3", "symbolSize": 38, "symbolStrokeWidth": 2.2, "symbolOffset": 4.75, "labelOffset": 6, "labelFont": "Liberation Serif", "labelFontSize": 6.5, "labelColor": "#222", "labelLimit": 0}}}},
        {"data": {"values": [{"deg": 75, "r": 1.0}]},
         "transform": [{"calculate": "datum.r*cos(datum.deg*PI/180)", "as": "x"}, {"calculate": "datum.r*sin(datum.deg*PI/180)", "as": "y"}, {"calculate": "-datum.x", "as": "nx"}, {"calculate": "-datum.y", "as": "ny"}],
         "mark": {"type": "rule", "strokeWidth": 2.2},
         "encoding": {"x": {"field": "x", "type": "quantitative"}, "y": {"field": "y", "type": "quantitative"}, "x2": {"field": "nx"}, "y2": {"field": "ny"}, "color": {"datum": "Microcrack", "type": "nominal"}}},
        {"data": {"values": [{"deg": 78.5, "r": 1.0}]},
         "transform": [{"calculate": "datum.r*cos(datum.deg*PI/180)", "as": "x"}, {"calculate": "datum.r*sin(datum.deg*PI/180)", "as": "y"}, {"calculate": "-datum.x", "as": "nx"}, {"calculate": "-datum.y", "as": "ny"}],
         "mark": {"type": "rule", "strokeWidth": 1.2},
         "encoding": {"x": {"field": "x", "type": "quantitative"}, "y": {"field": "y", "type": "quantitative"}, "x2": {"field": "nx"}, "y2": {"field": "ny"}, "color": {"datum": "Orientation of average angle", "type": "nominal"}}},
        {"data": {"values": [{"deg": 114, "r": 1.0}, {"deg": 42, "r": 0.45}]},
         "transform": [{"calculate": "datum.r*cos(datum.deg*PI/180)", "as": "x"}, {"calculate": "datum.r*sin(datum.deg*PI/180)", "as": "y"}],
         "mark": {"type": "point", "shape": "M-1,0H1M0,-1V1", "filled": false, "stroke": "#ff0000", "strokeWidth": 2, "size": 170, "opacity": 1},
         "encoding": {"x": {"field": "x", "type": "quantitative"}, "y": {"field": "y", "type": "quantitative"}}},
        {"data": {"name": "spokes"}, "transform": [{"calculate": "1.12*cos(datum.deg*PI/180)", "as": "x"}, {"calculate": "1.12*sin(datum.deg*PI/180)", "as": "y"}],
         "mark": {"type": "text", "font": "Liberation Serif", "fontSize": 8, "color": "#333"},
         "encoding": {"x": {"field": "x", "type": "quantitative"}, "y": {"field": "y", "type": "quantitative"}, "text": {"field": "label"}}},
        {"data": {"values": [{"x": 0.177, "y": 1.003, "t": "1"}, {"x": 0.113, "y": 0.8, "t": "0.8"}, {"x": 0.113, "y": 0.606, "t": "0.6"}, {"x": 0.042, "y": 0.413, "t": "0.4"}, {"x": 0.042, "y": 0.219, "t": "0.2"}]},
         "mark": {"type": "text", "font": "Liberation Serif", "fontSize": 6.5, "color": "#333"},
         "encoding": {"x": {"field": "x", "type": "quantitative"}, "y": {"field": "y", "type": "quantitative"}, "text": {"field": "t"}}},
        {"data": {"values": [{"x": -0.37, "y": 1.01, "t": "α₁"}, {"x": 0.806, "y": 0.72, "t": "α₂"}, {"x": 0.29, "y": 0.59, "t": "ᾱ"}]},
         "mark": {"type": "text", "font": "Liberation Serif", "fontSize": 16, "fontStyle": "italic", "color": "#ff1a1a"},
         "encoding": {"x": {"field": "x", "type": "quantitative"}, "y": {"field": "y", "type": "quantitative"}, "text": {"field": "t"}}},
        {"data": {"values": [{"x": 0.242, "y": 0.413, "t": "α"}]},
         "mark": {"type": "text", "font": "Liberation Serif", "fontSize": 15, "fontStyle": "italic", "color": "#2222ff"},
         "encoding": {"x": {"field": "x", "type": "quantitative"}, "y": {"field": "y", "type": "quantitative"}, "text": {"field": "t"}}},
        {"data": {"values": [{"x": 0.323, "y": 1.058, "t": "75°"}]},
         "mark": {"type": "text", "font": "Liberation Serif", "fontSize": 12, "fontWeight": "bold", "color": "#1c1ca8"},
         "encoding": {"x": {"field": "x", "type": "quantitative"}, "y": {"field": "y", "type": "quantitative"}, "text": {"field": "t"}}},
        {"data": {"values": [{"x": 0, "y": -1.335, "t": "(f)"}]},
         "mark": {"type": "text", "font": "Liberation Serif", "fontSize": 12, "color": "#000"},
         "encoding": {"x": {"field": "x", "type": "quantitative"}, "y": {"field": "y", "type": "quantitative"}, "text": {"field": "t"}}}
      ]
    }
  ],
  "columns": 2,
  "spacing": {"column": 76, "row": 66},
  "bounds": "flush",
  "resolve": {"scale": {"color": "independent"}, "legend": {"color": "independent"}},
  "config": {"view": {"stroke": null}, "axis": {"disable": true}, "font": "Liberation Serif"}
}
